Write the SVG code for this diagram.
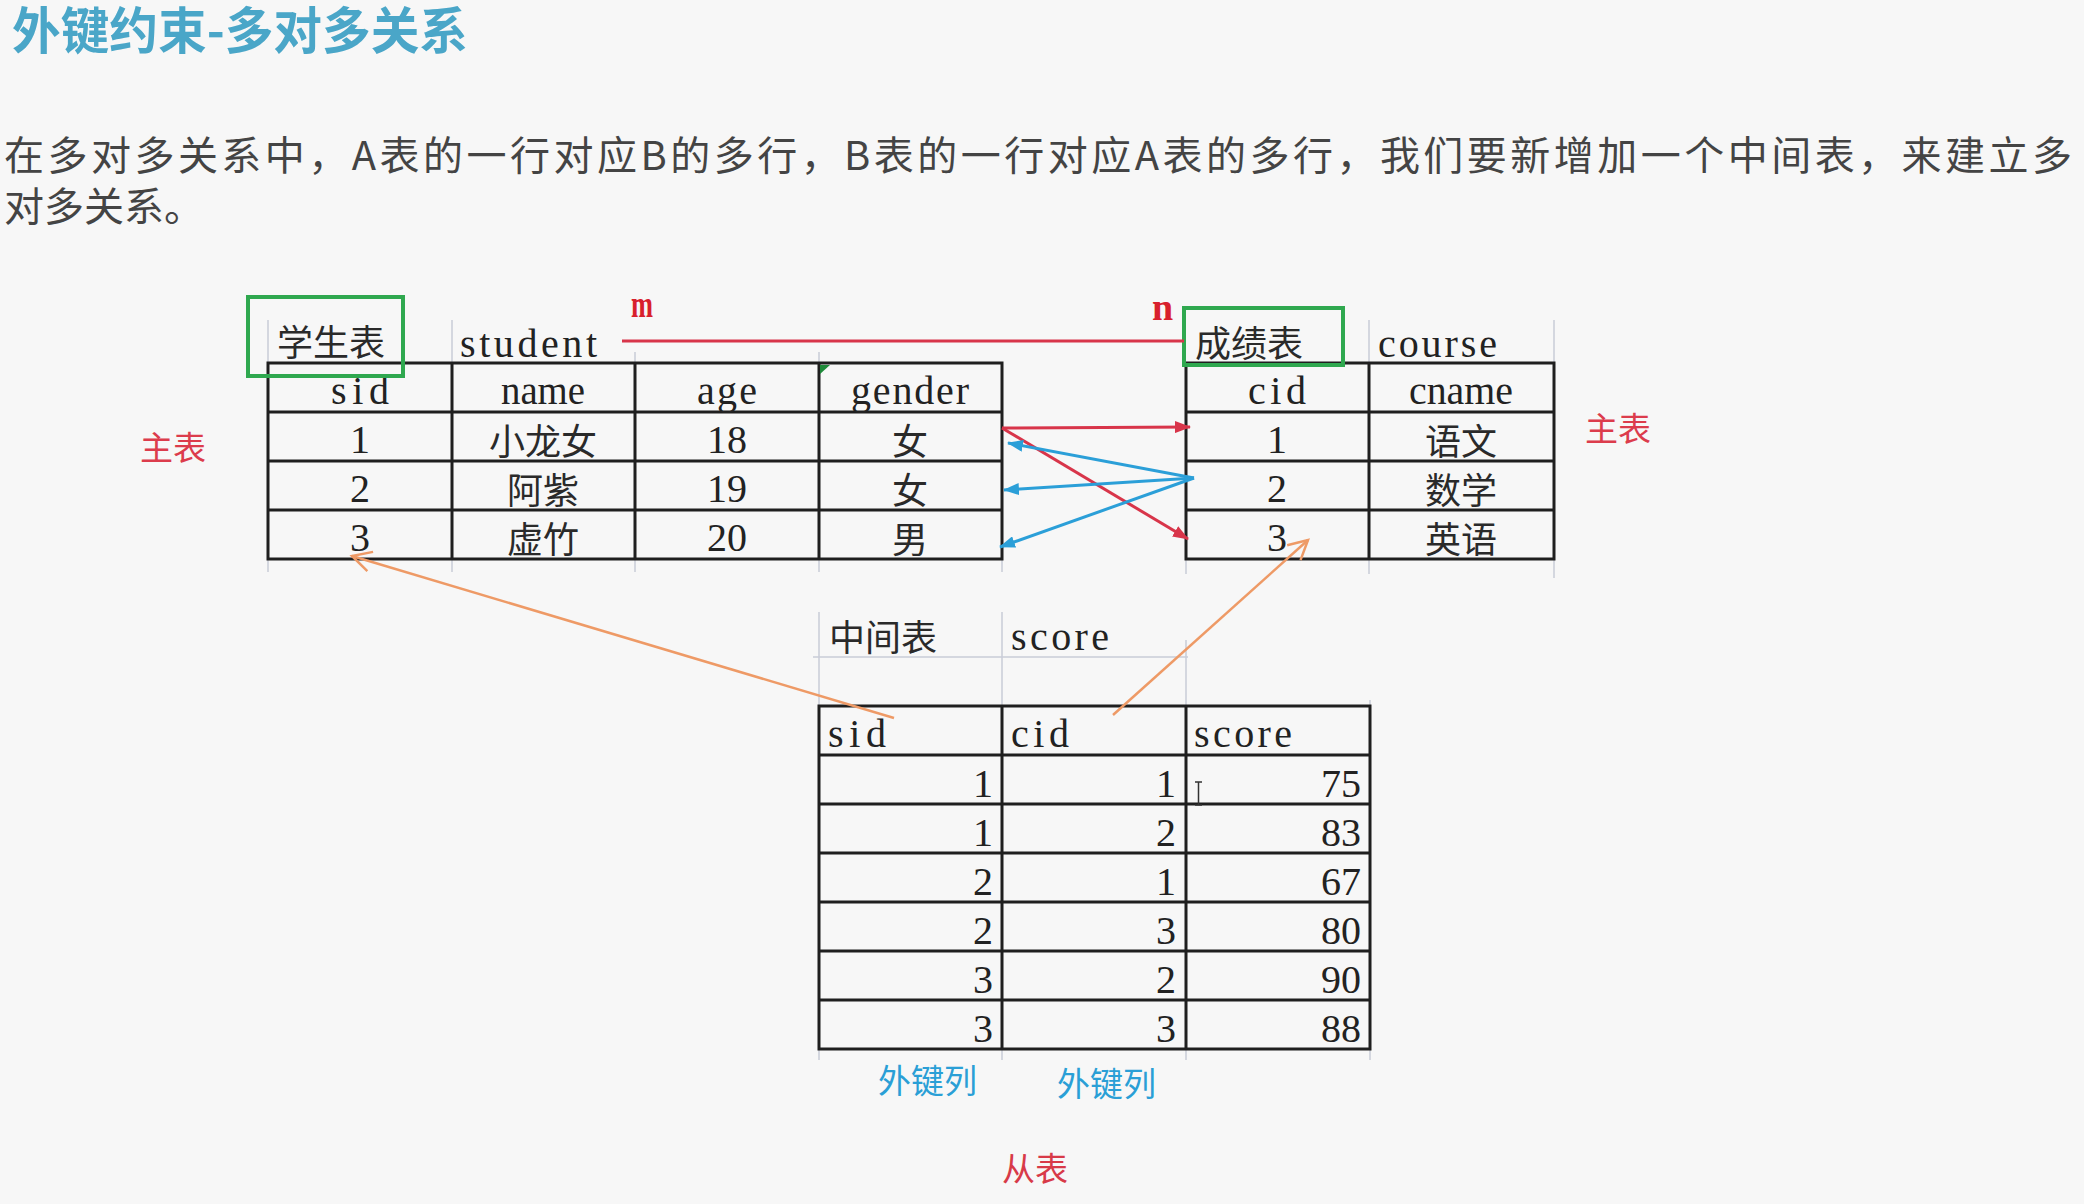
<svg xmlns="http://www.w3.org/2000/svg" width="2084" height="1204" viewBox="0 0 2084 1204">
<defs>
<style>
.cjk{font-family:"Noto Sans CJK SC","Noto Sans CJK JP",sans-serif}
.cell{font-family:"Noto Sans CJK SC","Noto Sans CJK JP",sans-serif;font-size:36px;fill:#2a2a2a}
.lat{font-family:"Liberation Serif","DejaVu Serif",serif;font-size:40px;fill:#222}
.tb{stroke:#1f1f1f;stroke-width:3;fill:none}
.grid{stroke:#c9cdd8;stroke-width:1.5;fill:none}
.green{stroke:#2fa84f;stroke-width:4;fill:none}
.red{stroke:#d8354a;stroke-width:3;fill:none}
.blue{stroke:#2b9fd8;stroke-width:3;fill:none}
.orange{stroke:#ee9a66;stroke-width:2.5;fill:none}
.c{text-anchor:middle}
.e{text-anchor:end}
</style>
<marker id="ar" markerUnits="userSpaceOnUse" markerWidth="16" markerHeight="12" refX="15" refY="6" orient="auto"><path d="M0,0 L16,6 L0,12 z" fill="#d8354a"/></marker>
<marker id="ab" markerUnits="userSpaceOnUse" markerWidth="16" markerHeight="12" refX="15" refY="6" orient="auto"><path d="M0,0 L16,6 L0,12 z" fill="#2b9fd8"/></marker>
<marker id="ao" markerUnits="userSpaceOnUse" markerWidth="24" markerHeight="24" refX="21" refY="12" orient="auto"><path d="M2,2 L21,12 L2,22" fill="none" stroke="#ee9a66" stroke-width="2.5"/></marker>
</defs>
<rect x="0" y="0" width="2084" height="1204" fill="#f7f7f7"/>

<g id="title">
<text x="12" y="49" class="cjk" font-size="50" font-weight="700" fill="#4aa6c8" textLength="456" lengthAdjust="spacingAndGlyphs">外键约束-多对多关系</text>
</g>

<g id="paragraph">
<text class="cjk" font-size="40" fill="#444"><tspan x="4" y="170" textLength="2068" lengthAdjust="spacing">在多对多关系中，A表的一行对应B的多行，B表的一行对应A表的多行，我们要新增加一个中间表，来建立多</tspan><tspan x="4" y="221">对多关系。</tspan></text>
</g>

<g id="student-table">
<path class="grid" d="M268,320V363 M452,320V363 M635,352V363 M819,352V363 M268,559V572 M452,559V572 M635,559V572 M819,559V572 M1002,559V572"/>
<rect class="tb" x="268" y="363" width="734" height="196"/>
<path class="tb" d="M268,412H1002 M268,461H1002 M268,510H1002 M452,363V559 M635,363V559 M819,363V559"/>
<polygon points="820,365 830,365 820,374" fill="#1f8a3a"/>
<text x="277" y="356" class="cell" font-size="37">学生表</text>
<text x="460" y="357" class="lat" textLength="137" lengthAdjust="spacing">student</text>
<text x="360" y="404" class="lat c" textLength="58" lengthAdjust="spacing">sid</text>
<text x="543" y="404" class="lat c" textLength="84" lengthAdjust="spacingAndGlyphs">name</text>
<text x="727" y="404" class="lat c" textLength="60" lengthAdjust="spacing">age</text>
<text x="910" y="404" class="lat c" textLength="118" lengthAdjust="spacing">gender</text>
<text x="360" y="453" class="lat c">1</text>
<text x="543" y="455" class="cell c">小龙女</text>
<text x="727" y="453" class="lat c">18</text>
<text x="910" y="455" class="cell c">女</text>
<text x="360" y="502" class="lat c">2</text>
<text x="543" y="504" class="cell c">阿紫</text>
<text x="727" y="502" class="lat c">19</text>
<text x="910" y="504" class="cell c">女</text>
<text x="360" y="551" class="lat c">3</text>
<text x="543" y="553" class="cell c">虚竹</text>
<text x="727" y="551" class="lat c">20</text>
<text x="910" y="553" class="cell c">男</text>
<rect class="green" x="248" y="297" width="155" height="79"/>
</g>

<g id="course-table">
<path class="grid" d="M1369,320V363 M1554,320V363 M1186,559V574 M1369,559V574 M1554,559V578"/>
<rect class="tb" x="1186" y="363" width="368" height="196"/>
<path class="tb" d="M1186,412H1554 M1186,461H1554 M1186,510H1554 M1369,363V559"/>
<text x="1195" y="357" class="cell" font-size="37">成绩表</text>
<text x="1378" y="357" class="lat" textLength="119" lengthAdjust="spacing">course</text>
<text x="1277" y="404" class="lat c" textLength="58" lengthAdjust="spacing">cid</text>
<text x="1461" y="404" class="lat c" textLength="104" lengthAdjust="spacingAndGlyphs">cname</text>
<text x="1277" y="453" class="lat c">1</text>
<text x="1461" y="455" class="cell c">语文</text>
<text x="1277" y="502" class="lat c">2</text>
<text x="1461" y="504" class="cell c">数学</text>
<text x="1277" y="551" class="lat c">3</text>
<text x="1461" y="553" class="cell c">英语</text>
<rect class="green" x="1184" y="308" width="159" height="57"/>
</g>

<g id="score-table">
<path class="grid" d="M819,612V706 M1002,612V706 M1186,640V706 M813,657H1188 M1370,700V706 M819,1049V1060 M1002,1049V1060 M1186,1049V1060 M1370,1049V1060"/>
<rect class="tb" x="819" y="706" width="551" height="343"/>
<path class="tb" d="M819,755H1370 M819,804H1370 M819,853H1370 M819,902H1370 M819,951H1370 M819,1000H1370 M1002,706V1049 M1186,706V1049"/>
<text x="829" y="651" class="cell" font-size="37">中间表</text>
<text x="1011" y="650" class="lat" textLength="98" lengthAdjust="spacing">score</text>
<text x="828" y="747" class="lat" textLength="58" lengthAdjust="spacing">sid</text>
<text x="1011" y="747" class="lat" textLength="58" lengthAdjust="spacing">cid</text>
<text x="1194" y="747" class="lat" textLength="98" lengthAdjust="spacing">score</text>
<g class="lat e">
<text x="993" y="797">1</text>
<text x="1176" y="797">1</text>
<text x="1361" y="797">75</text>
<text x="993" y="846">1</text>
<text x="1176" y="846">2</text>
<text x="1361" y="846">83</text>
<text x="993" y="895">2</text>
<text x="1176" y="895">1</text>
<text x="1361" y="895">67</text>
<text x="993" y="944">2</text>
<text x="1176" y="944">3</text>
<text x="1361" y="944">80</text>
<text x="993" y="993">3</text>
<text x="1176" y="993">2</text>
<text x="1361" y="993">90</text>
<text x="993" y="1042">3</text>
<text x="1176" y="1042">3</text>
<text x="1361" y="1042">88</text>
</g>
<path d="M1195,782h7 M1198.5,782v23 M1195,805h7" stroke="#333" stroke-width="1.5" fill="none"/>
</g>

<g id="labels" class="cjk">
<text x="140" y="460" font-size="33" fill="#dc3c4c">主表</text>
<text x="1585" y="441" font-size="33" fill="#dc3c4c">主表</text>
<text x="878" y="1093" font-size="33" fill="#2a9fd6">外键列</text>
<text x="1057" y="1096" font-size="33" fill="#2a9fd6">外键列</text>
<text x="1002" y="1181" font-size="33" fill="#d83a48">从表</text>
<text x="631" y="317" font-family="'Liberation Serif',serif" font-weight="700" font-size="38" fill="#d8202c" textLength="22" lengthAdjust="spacingAndGlyphs">m</text>
<text x="1152" y="320" font-family="'Liberation Serif',serif" font-weight="700" font-size="38" fill="#d8202c">n</text>
</g>

<g id="connectors">
<line class="red" x1="622" y1="341" x2="1184" y2="341"/>
<line class="red" x1="1002" y1="428" x2="1190" y2="427" marker-end="url(#ar)"/>
<line class="red" x1="1002" y1="428" x2="1188" y2="539" marker-end="url(#ar)"/>
<line class="blue" x1="1194" y1="478" x2="1008" y2="443" marker-end="url(#ab)"/>
<line class="blue" x1="1194" y1="478" x2="1004" y2="490" marker-end="url(#ab)"/>
<line class="blue" x1="1194" y1="478" x2="1000" y2="547" marker-end="url(#ab)"/>
<line class="orange" x1="894" y1="718" x2="352" y2="556" marker-end="url(#ao)"/>
<line class="orange" x1="1113" y1="715" x2="1308" y2="540" marker-end="url(#ao)"/>
</g>
</svg>
